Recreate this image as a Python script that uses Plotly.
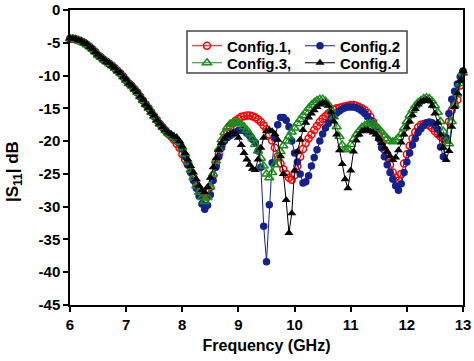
import numpy as np
import plotly.graph_objects as go

freq = np.round(np.arange(6.0, 13.0001, 0.05), 2).tolist()

config1 = [
    -4.4, -4.4, -4.5, -4.6, -4.8, -5.0, -5.3, -5.6, -6.0, -6.4,
    -6.9, -7.2, -7.6, -7.9, -8.2, -8.5, -8.9, -9.3, -9.7, -10.2,
    -10.7, -11.2, -11.6, -12.1, -12.6, -13.2, -13.8, -14.4, -15.0, -15.6,
    -16.2, -16.8, -17.4, -17.9, -18.4, -18.9, -19.3, -19.8, -20.4,
    -21.0, -22.0, -22.8, -23.6, -24.6, -25.6, -26.6, -27.6, -28.5, -29.0,
    -28.4, -27.0, -25.2, -23.6, -22.0, -20.6, -19.5, -18.6, -17.9, -17.3,
    -16.9, -16.6, -16.3, -16.2, -16.1, -16.1, -16.2, -16.4, -16.7, -17.1,
    -17.6, -18.2, -19.0, -19.9, -21.0, -22.3, -23.4, -24.3, -25.0, -25.6,
    -25.9, -25.2, -23.8, -22.4, -21.2, -20.3, -19.6, -19.0, -18.3, -17.7,
    -17.1, -16.6, -16.2, -15.8, -15.5, -15.2, -15.0, -14.9, -14.8, -14.7,
    -14.6, -14.5, -14.5, -14.6, -14.8, -15.0, -15.3, -15.7, -16.3, -17.1,
    -18.0, -19.1, -20.2, -21.3, -22.4, -23.6, -24.8, -25.6, -26.0, -25.0,
    -23.4, -22.0, -20.7, -19.6, -18.6, -17.9, -17.5, -17.4, -17.4, -17.6,
    -18.0, -18.5, -18.9, -19.3, -19.6, -19.8, -17.0, -15.3, -14.3, -13.7,
    -11.5, -9.5,
]

config2 = [
    -4.4, -4.4, -4.5, -4.6, -4.8, -5.0, -5.3, -5.6, -6.0, -6.4,
    -6.9, -7.2, -7.6, -7.9, -8.2, -8.5, -8.9, -9.3, -9.7, -10.2,
    -10.7, -11.2, -11.6, -12.1, -12.6, -13.2, -13.8, -14.4, -15.0, -15.6,
    -16.2, -16.8, -17.4, -17.9, -18.4, -18.8, -19.2, -19.5, -19.8,
    -20.3, -21.2, -22.4, -23.6, -24.8, -26.0, -27.2, -28.4, -29.6, -30.4,
    -29.8, -28.2, -26.0, -24.0, -22.4, -21.0, -20.0, -19.5, -19.2, -18.9,
    -18.6, -18.4, -18.3, -18.4, -18.8, -19.2, -19.7, -20.2, -21.5, -24.0,
    -33.0, -38.4, -29.7, -23.3, -19.5, -17.5, -16.4, -16.4, -16.8, -17.8,
    -20.0, -21.8, -23.2, -25.0, -26.4, -26.2, -25.3, -23.8, -22.5, -21.3,
    -20.0, -18.9, -18.0, -17.3, -16.6, -16.1, -15.7, -15.4, -15.1, -14.9,
    -14.8, -14.8, -14.8, -14.9, -15.1, -15.4, -15.8, -16.3, -16.8, -17.3,
    -18.4, -19.6, -21.0, -22.4, -23.6, -24.8, -25.8, -26.8, -27.5, -26.5,
    -24.8, -23.2, -21.8, -20.6, -19.6, -18.7, -18.1, -17.6, -17.2, -17.1,
    -17.2, -17.5, -18.2, -20.9, -22.4, -19.5, -15.8, -13.6, -12.4, -11.3,
    -10.2, -9.3,
]

config3 = [
    -4.4, -4.4, -4.5, -4.6, -4.8, -5.0, -5.3, -5.6, -6.0, -6.4,
    -6.9, -7.2, -7.6, -7.9, -8.2, -8.5, -8.9, -9.3, -9.7, -10.2,
    -10.7, -11.2, -11.6, -12.1, -12.6, -13.2, -13.8, -14.4, -15.0, -15.6,
    -16.2, -16.8, -17.4, -17.9, -18.4, -18.8, -19.1, -19.4, -19.8,
    -20.2, -21.0, -22.0, -23.2, -24.4, -25.6, -26.8, -27.8, -28.6, -29.2,
    -28.6, -27.0, -25.0, -23.0, -21.2, -19.8, -18.7, -17.9, -17.4, -17.2,
    -17.1, -17.2, -17.4, -17.8, -18.3, -18.9, -19.6, -20.5, -21.5, -22.6,
    -23.8, -25.0, -25.6, -24.8, -23.6, -22.6, -21.6, -20.7, -20.0, -19.3,
    -18.6, -18.0, -17.3, -16.7, -16.1, -15.6, -15.0, -14.5, -14.1, -13.8,
    -13.6, -13.6, -13.9, -14.4, -15.2, -16.3, -17.8, -19.3, -20.6, -21.3,
    -21.2, -20.5, -19.7, -19.0, -18.4, -17.9, -17.6, -17.4, -17.3, -17.4,
    -17.7, -18.1, -18.6, -19.1, -19.6, -20.0, -20.1, -19.9, -19.5, -18.9,
    -18.0, -17.0, -16.1, -15.3, -14.6, -14.1, -13.8, -13.5, -13.4, -13.5,
    -13.9, -14.6, -15.6, -17.0, -18.5, -20.0, -20.4, -17.0, -14.5, -12.8,
    -11.2, -9.6,
]

config4 = [
    -4.3, -4.4, -4.4, -4.6, -4.7, -5.0, -5.2, -5.6, -5.9, -6.4,
    -6.8, -7.2, -7.5, -7.9, -8.1, -8.5, -8.8, -9.3, -9.6, -10.2,
    -10.6, -11.2, -11.5, -12.1, -12.5, -13.2, -13.7, -14.4, -14.9, -15.6,
    -16.1, -16.8, -17.3, -17.9, -18.3, -18.7, -18.9, -19.2, -19.4,
    -20.0, -20.8, -21.8, -22.8, -23.8, -24.8, -25.8, -26.8, -27.5, -27.8,
    -27.0, -25.6, -24.0, -22.6, -21.3, -20.3, -19.6, -19.1, -18.9, -18.8,
    -18.9, -19.5, -20.6, -21.8, -22.8, -23.6, -24.2, -24.4, -22.8, -21.0,
    -19.5, -18.5, -18.3, -18.5, -18.9, -19.8, -22.3, -25.0, -29.0, -34.0,
    -31.0, -24.5, -21.6, -19.8, -18.3, -17.2, -16.4, -15.8, -15.3, -14.8,
    -14.4, -14.2, -14.2, -14.6, -15.6, -17.0, -19.0, -21.4, -23.5, -25.8,
    -27.2, -24.5, -21.6, -19.9, -19.0, -18.5, -18.3, -18.3, -18.5, -18.7,
    -19.0, -19.6, -20.3, -21.0, -21.6, -22.3, -22.9, -22.5, -21.4, -20.2,
    -19.0, -17.9, -17.0, -16.0, -15.1, -14.4, -14.0, -13.8, -13.7, -13.9,
    -14.6, -15.8, -17.2, -19.0, -21.0, -22.9, -21.5, -17.8, -14.8, -12.7,
    -10.8, -9.3,
]

x_ticks = [6, 7, 8, 9, 10, 11, 12, 13]
y_ticks = [0, -5, -10, -15, -20, -25, -30, -35, -40, -45]

FONT = "Liberation Sans, Arial, sans-serif"

fig = go.Figure()
fig.add_trace(go.Scatter(
    x=freq, y=config1, name="<b>Config.1,</b>", mode="lines+markers",
    line=dict(color="#ff0000", width=1),
    marker=dict(symbol="circle-open", size=7, color="#ff0000", line=dict(width=1.5)),
    legend="legend", cliponaxis=False))
fig.add_trace(go.Scatter(
    x=freq, y=config2, name="<b>Config.2</b>", mode="lines+markers",
    line=dict(color="#14228c", width=1),
    marker=dict(symbol="circle", size=7.5, color="#14228c"),
    legend="legend", cliponaxis=False))
fig.add_trace(go.Scatter(
    x=freq, y=config3, name="<b>Config.3,</b>", mode="lines+markers",
    line=dict(color="#1a8c1a", width=1),
    marker=dict(symbol="triangle-up-open", size=8, color="#1a8c1a", line=dict(width=1.5)),
    legend="legend2", cliponaxis=False))
fig.add_trace(go.Scatter(
    x=freq, y=config4, name="<b>Config.4</b>", mode="lines+markers",
    line=dict(color="#000000", width=1),
    marker=dict(symbol="triangle-up", size=8, color="#000000"),
    legend="legend2", cliponaxis=False))

legend_common = dict(orientation="h", xanchor="left", yanchor="middle",
                     font=dict(family=FONT, size=15, color="black"),
                     bgcolor="rgba(0,0,0,0)", borderwidth=0,
                     entrywidth=68, entrywidthmode="pixels",
                     itemclick=False, itemdoubleclick=False,
                     tracegroupgap=0)

fig.update_layout(
    width=474, height=361,
    margin=dict(l=70, r=11, t=10, b=56),
    paper_bgcolor="white", plot_bgcolor="white",
    font=dict(family=FONT, color="black"),
    legend=dict(x=(187 - 70) / 393, y=(305 - 46) / 295, **legend_common),
    legend2=dict(x=(187 - 70) / 393, y=(305 - 63) / 295, **legend_common),
    shapes=[dict(type="rect", xref="paper", yref="paper",
                 x0=(187 - 70) / 393, x1=(407 - 70) / 393,
                 y0=(305 - 73) / 295, y1=(305 - 31) / 295,
                 line=dict(color="#444444", width=1.5), fillcolor="rgba(0,0,0,0)")],
    annotations=[dict(text="<b>|S<sub>11</sub>| dB</b>", textangle=-90,
                      xref="paper", yref="paper", x=(14 - 70) / 393, y=(305 - 172) / 295,
                      xanchor="center", yanchor="middle", showarrow=False,
                      font=dict(family=FONT, size=17, color="black"))],
    xaxis=dict(range=[6, 13], tickvals=x_ticks, ticktext=[f"<b>{t}</b>" for t in x_ticks],
               ticks="outside", ticklen=5, tickwidth=1.5, tickcolor="black",
               showline=True, linecolor="black", linewidth=1.5, mirror=True,
               showgrid=False, zeroline=False, automargin=False,
               tickfont=dict(family=FONT, size=15, color="black"),
               title=dict(text="<b>Frequency (GHz)</b>", standoff=8,
                          font=dict(family=FONT, size=16, color="black"))),
    yaxis=dict(range=[-45, 0], tickvals=y_ticks, ticktext=[f"<b>{t}</b>" for t in y_ticks],
               ticks="outside", ticklen=5, tickwidth=1.5, tickcolor="black",
               showline=True, linecolor="black", linewidth=1.5, mirror=True,
               showgrid=False, zeroline=False, automargin=False,
               tickfont=dict(family=FONT, size=15, color="black")),
)

fig.write_html("out.html", config={"displayModeBar": False},
               post_script="document.body.style.margin='0';document.body.style.overflow='hidden';")
